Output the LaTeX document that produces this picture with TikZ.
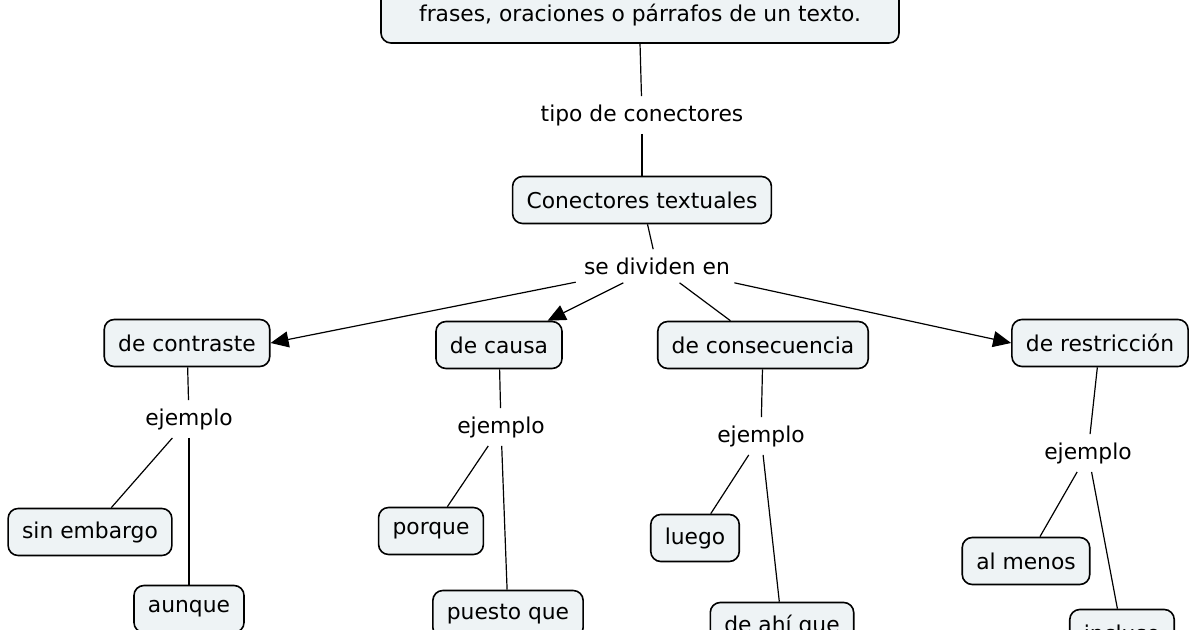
\documentclass[tikz,border=0pt]{standalone}
\usepackage{fontspec}
\setmainfont{DejaVu Sans}
\usetikzlibrary{arrows.meta}
\definecolor{boxfill}{HTML}{EEF3F5}
\tikzset{
 cbox/.style={draw=black,line width=0.8pt,fill=boxfill,rounded corners=5pt,minimum height=23.5pt,inner xsep=7pt,font=\fontsize{10.9}{12}\selectfont},
 lbl/.style={inner sep=4pt,font=\fontsize{10.9}{12}\selectfont},
 ln/.style={line width=0.6pt},
 arr/.style={line width=0.6pt,-{Triangle[length=9pt,width=8pt]}}
}
\begin{document}
\begin{tikzpicture}[x=0.5pt,y=-0.5pt]
\useasboundingbox (0,0) rectangle (1200,630);
\clip (0,0) rectangle (1200,630);
\fill[white] (0,0) rectangle (1200,630);
\draw[line width=0.8pt,fill=boxfill,rounded corners=5pt] (381,-40) rectangle (899,43);
\node[font=\fontsize{10.9}{12}\selectfont] (top) at (640,15) {frases, oraciones o párrafos de un texto.};
\coordinate (topb) at (640,43);
\node[lbl] (tipo) at (642,115) {tipo de conectores};
\node[cbox] (ct) at (642,200) {Conectores textuales};
\node[lbl] (se) at (657,266) {se dividen en};
\node[cbox] (con) at (187,343) {de contraste};
\node[cbox] (cau) at (499,345) {de causa};
\node[cbox] (cons) at (763,345) {de consecuencia};
\node[cbox] (res) at (1100,343) {de restricción};
\node[lbl] (e1) at (189,419) {ejemplo};
\node[lbl] (e2) at (501,427) {ejemplo};
\node[lbl] (e3) at (761,436) {ejemplo};
\node[lbl] (e4) at (1088,453) {ejemplo};
\node[cbox] (sin) at (90,532) {sin embargo};
\node[cbox] (aun) at (189,609) {aunque};
\node[cbox] (por) at (431,531) {porque};
\node[cbox] (pue) at (508,614) {puesto que};
\node[cbox] (lue) at (695,538) {luego};
\node[cbox] (ahi) at (782,626) {de ahí que};
\node[cbox] (alm) at (1026,561) {al menos};
\node[cbox] (inc) at (1122,633) {incluso};
\draw[ln] (topb) -- (tipo);
\draw[ln] (tipo) -- (ct);
\draw[ln] (ct) -- (se);
\draw[arr] (se) -- (con.east);
\draw[arr] (se) -- (cau);
\draw[ln] (se) -- (cons);
\draw[arr] (se) -- (res.west);
\draw[ln] (con) -- (e1);
\draw[ln] (e1) -- (sin);
\draw[ln] (e1) -- (aun);
\draw[ln] (cau) -- (e2);
\draw[ln] (e2) -- (por);
\draw[ln] (e2) -- (pue);
\draw[ln] (cons) -- (e3);
\draw[ln] (e3) -- (lue);
\draw[ln] (e3) -- (ahi);
\draw[ln] (res) -- (e4);
\draw[ln] (e4) -- (alm);
\draw[ln] (e4) -- (inc);
\end{tikzpicture}
\end{document}
